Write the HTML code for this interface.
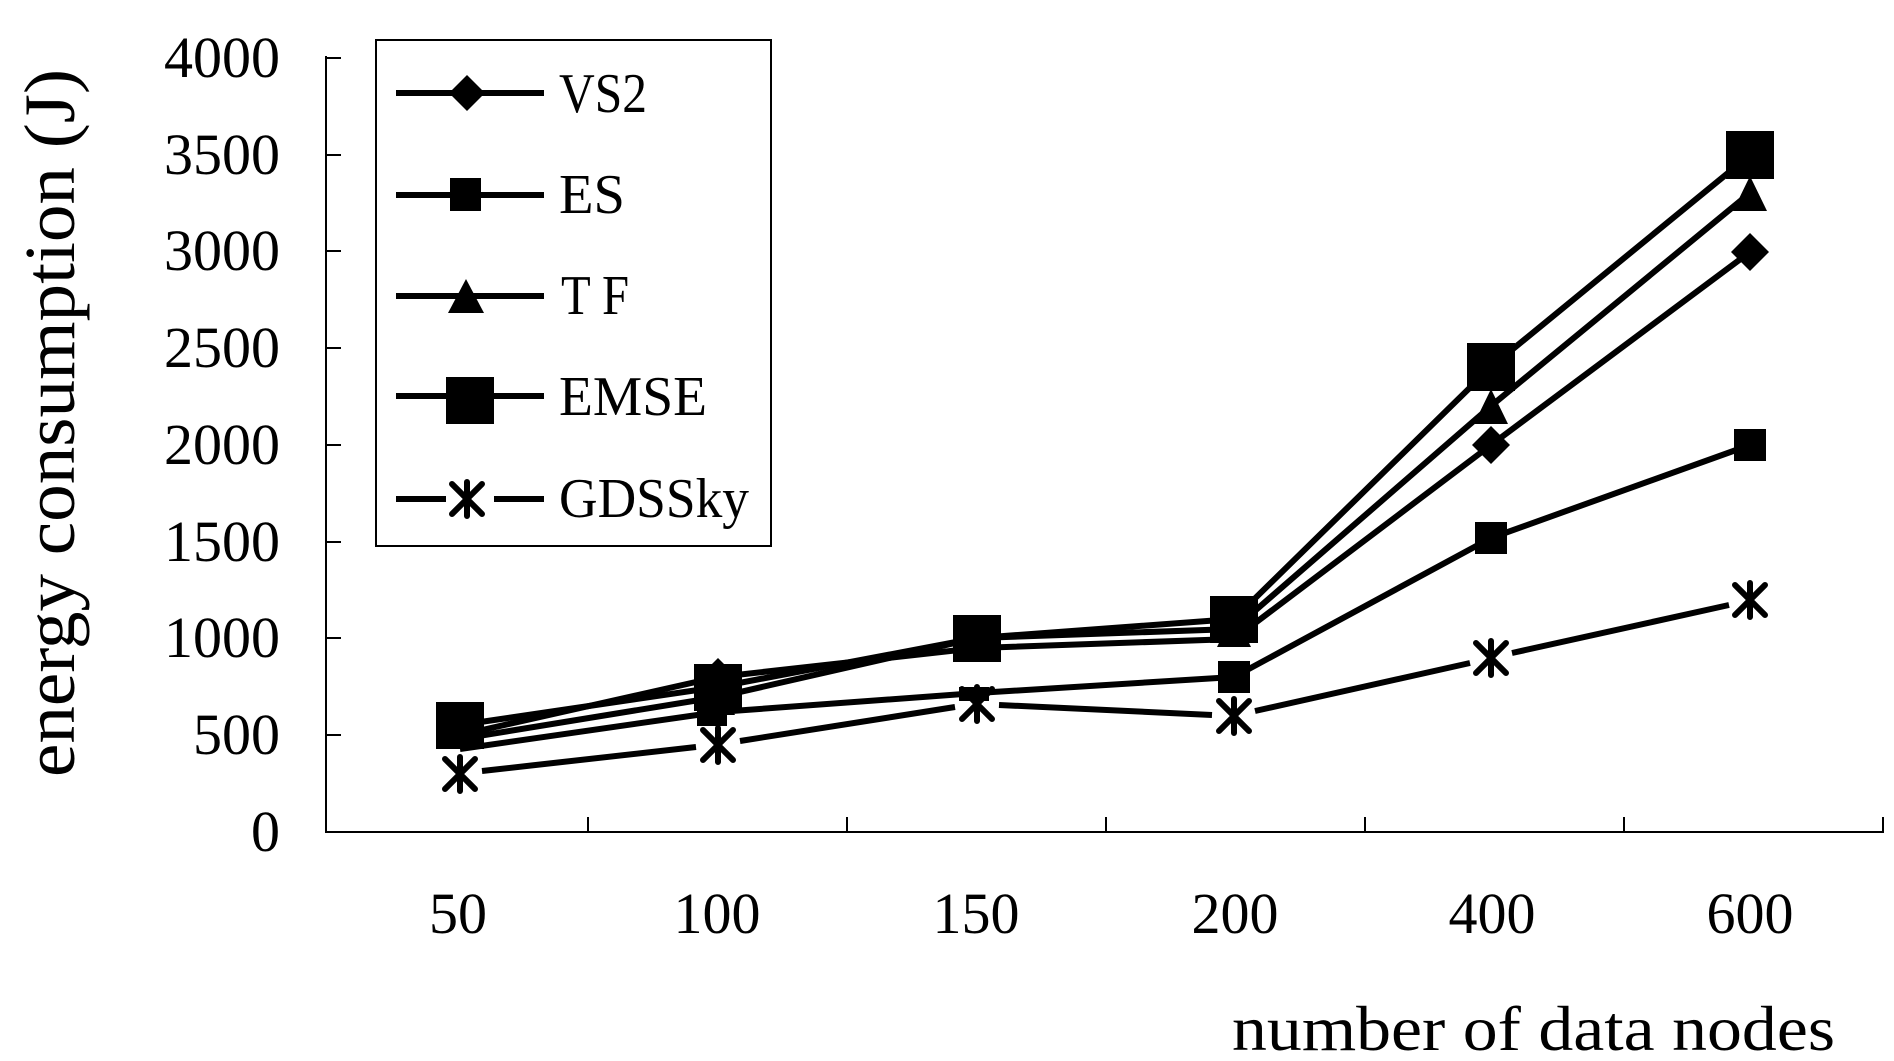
<!DOCTYPE html>
<html><head><meta charset="utf-8"><style>
html,body{margin:0;padding:0;background:#fff;}
svg{display:block;}
text{font-family:"Liberation Serif",serif;fill:#000;}
</style></head><body>
<svg width="1894" height="1061" viewBox="0 0 1894 1061" xmlns="http://www.w3.org/2000/svg">
<rect width="1894" height="1061" fill="#fff"/>
<g stroke="#000" stroke-width="2" fill="none">
<line x1="326" y1="56" x2="326" y2="833"/>
<line x1="325" y1="832" x2="1884" y2="832"/>
<line x1="326" y1="58" x2="341" y2="58"/>
<line x1="326" y1="155" x2="341" y2="155"/>
<line x1="326" y1="251" x2="341" y2="251"/>
<line x1="326" y1="348" x2="341" y2="348"/>
<line x1="326" y1="445" x2="341" y2="445"/>
<line x1="326" y1="542" x2="341" y2="542"/>
<line x1="326" y1="638" x2="341" y2="638"/>
<line x1="326" y1="735" x2="341" y2="735"/>
<line x1="588" y1="817" x2="588" y2="832"/>
<line x1="847" y1="817" x2="847" y2="832"/>
<line x1="1106" y1="817" x2="1106" y2="832"/>
<line x1="1365" y1="817" x2="1365" y2="832"/>
<line x1="1624" y1="817" x2="1624" y2="832"/>
<line x1="1883" y1="817" x2="1883" y2="832"/>
</g>
<g font-size="58" text-anchor="end">
<text x="280" y="77">4000</text>
<text x="280" y="174">3500</text>
<text x="280" y="270">3000</text>
<text x="280" y="367">2500</text>
<text x="280" y="464">2000</text>
<text x="280" y="561">1500</text>
<text x="280" y="657">1000</text>
<text x="280" y="754">500</text>
<text x="280" y="851">0</text>
</g>
<g font-size="58" text-anchor="middle">
<text x="458" y="933">50</text>
<text x="717" y="933">100</text>
<text x="976" y="933">150</text>
<text x="1235" y="933">200</text>
<text x="1492" y="933">400</text>
<text x="1750" y="933">600</text>
</g>
<text x="1232" y="1050" font-size="64" textLength="603" lengthAdjust="spacingAndGlyphs">number of data nodes</text>
<text transform="translate(74,777) rotate(-90)" font-size="72" textLength="708" lengthAdjust="spacingAndGlyphs">energy consumption (J)</text>

<g stroke="#000" stroke-width="6" fill="none" stroke-linejoin="round">
<polyline points="460,725 718,687 977,638 1234,619 1491,367 1750,155"/>
<polyline points="460,739 718,697 977,638 1234,629 1491,406 1750,193"/>
<polyline points="460,735 718,677 977,648 1234,639 1491,445 1750,252"/>
<polyline points="460,749 718,712 977,693 1234,677 1491,538 1750,445"/>
</g>
<g stroke="#000" stroke-width="6" fill="none">
<line x1="482" y1="771" x2="696" y2="747"/>
<line x1="740" y1="741" x2="955" y2="707"/>
<line x1="999" y1="705" x2="1212" y2="715"/>
<line x1="1255" y1="711" x2="1470" y2="663"/>
<line x1="1512" y1="653" x2="1729" y2="605"/>
</g>
<g fill="#000">
<rect x="436" y="702" width="48" height="47"/>
<rect x="694" y="664" width="48" height="47"/>
<rect x="953" y="615" width="48" height="47"/>
<rect x="1210" y="596" width="48" height="47"/>
<rect x="1467" y="343" width="48" height="48"/>
<rect x="1726" y="131" width="48" height="48"/>
<polygon points="718,680 701,715 735,715"/>
<polygon points="977,621 960,656 994,656"/>
<polygon points="1234,612 1217,647 1251,647"/>
<polygon points="1491,389 1474,424 1508,424"/>
<polygon points="1750,176 1733,211 1767,211"/>
<polygon points="718,658 737,677 718,696 699,677"/>
<polygon points="1491,426 1510,445 1491,464 1472,445"/>
<polygon points="1750,233 1769,252 1750,271 1731,252"/>
<rect x="697" y="698" width="30" height="28"/>
<rect x="959" y="687" width="30" height="14"/>
<rect x="1218" y="661" width="32" height="32"/>
<rect x="1475" y="522" width="32" height="32"/>
<rect x="1734" y="429" width="32" height="32"/>
</g>
<g stroke="#000" stroke-width="6" stroke-linecap="round" fill="none">
<path d="M445,759 L475,789 M475,759 L445,789 M460,757 L460,791"/>
<path d="M703,730 L733,760 M733,730 L703,760 M718,728 L718,762"/>
<path d="M962,689 L992,719 M992,689 L962,719 M977,687 L977,721"/>
<path d="M1219,701 L1249,731 M1249,701 L1219,731 M1234,699 L1234,733"/>
<path d="M1476,643 L1506,673 M1506,643 L1476,673 M1491,641 L1491,675"/>
<path d="M1735,585 L1765,615 M1765,585 L1735,615 M1750,583 L1750,617"/>
</g>

<rect x="376" y="40" width="395" height="506" fill="#fff" stroke="#000" stroke-width="2"/>
<g stroke="#000" stroke-width="6" fill="none">
<line x1="396" y1="93" x2="544" y2="93"/>
<line x1="396" y1="195" x2="544" y2="195"/>
<line x1="396" y1="296" x2="544" y2="296"/>
<line x1="396" y1="396" x2="544" y2="396"/>
<line x1="396" y1="499" x2="446" y2="499"/>
<line x1="494" y1="499" x2="544" y2="499"/>
</g>
<g fill="#000">
<polygon points="467,75 485,93 467,111 449,93"/>
<rect x="450" y="178" width="31" height="33"/>
<polygon points="466,279 448,313 484,313"/>
<rect x="446" y="377" width="48" height="47"/>
</g>
<g stroke="#000" stroke-width="6" stroke-linecap="round" fill="none">
<path d="M452,484 L482,514 M482,484 L452,514 M467,482 L467,516"/>
</g>
<g font-size="56">
<text x="559" y="112" textLength="88" lengthAdjust="spacingAndGlyphs">VS2</text>
<text x="559" y="213" textLength="66" lengthAdjust="spacingAndGlyphs">ES</text>
<text x="561" y="314" textLength="68" lengthAdjust="spacingAndGlyphs">T F</text>
<text x="559" y="415" textLength="148" lengthAdjust="spacingAndGlyphs">EMSE</text>
<text x="559" y="517" textLength="190" lengthAdjust="spacingAndGlyphs">GDSSky</text>
</g>
</svg>
</body></html>
